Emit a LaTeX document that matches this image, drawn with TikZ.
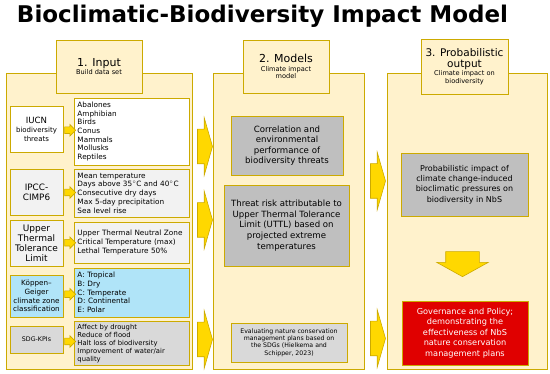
\documentclass[tikz,border=0pt]{standalone}
\usepackage{fontspec}
\setmainfont{DejaVu Sans}
\usetikzlibrary{shapes.arrows,calc}

\definecolor{beige}{HTML}{FFF2CC}
\definecolor{gold}{HTML}{CCAA00}
\definecolor{arrowyellow}{HTML}{FFD800}
\definecolor{paleGrey}{HTML}{F2F2F2}
\definecolor{lightGrey}{HTML}{D9D9D9}
\definecolor{midGrey}{HTML}{BFBFBF}
\definecolor{paleBlue}{HTML}{B0E4F8}
\definecolor{boxRed}{HTML}{E00000}
\newcommand\fsz[2]{\fontsize{#1}{#2}\selectfont}
\newcommand\bigfont{\fsz{11}{12.5}}

\begin{document}
\begin{tikzpicture}[x=1pt,y=-1pt,line width=0.9pt,
  frame/.style={draw=gold,inner sep=0pt,align=center},
  headbox/.style={frame,fill=beige,font=\fsz{6.6}{7.6}},
  listbox/.style={frame,align=left,text width=108pt,inner xsep=3.5pt,font=\fsz{7.3}{8.7}},
  bigarrow/.style={single arrow,draw=gold,fill=arrowyellow,line width=0.6pt,inner sep=0pt,
    inner ysep=17pt,minimum height=15pt,single arrow head extend=11.5pt,single arrow tip angle=148},
  smallarrow/.style={single arrow,draw=gold,fill=arrowyellow,line width=0.6pt,inner sep=0pt,
    inner ysep=3pt,minimum height=11pt,single arrow head extend=2.5pt,single arrow tip angle=90}]
  \useasboundingbox (0,0) rectangle (550,374);
  \node[anchor=base,font=\bfseries\fsz{23}{26}] (title) at (262.5,23) {Bioclimatic-Biodiversity Impact Model};
  % columns
  \node[frame,fill=beige,minimum width=186pt,minimum height=296pt] (col1) at (99,221) {};
  \node[frame,fill=beige,minimum width=151pt,minimum height=296pt] (col2) at (288.5,221) {};
  \node[frame,fill=beige,minimum width=160pt,minimum height=296pt] (col3) at (467,221) {};
  \node[headbox,minimum width=86pt,minimum height=53pt] (head1) at (99,66.5)
    {\bigfont 1. Input\\[1pt]Build data set};
  \node[headbox,minimum width=86pt,minimum height=53pt] (head2) at (286,66.5)
    {\bigfont 2. Models\\[1pt]Climate impact\\model};
  \node[headbox,minimum width=87pt,minimum height=55pt] (head3) at (464.5,66.5)
    {\fsz{10.5}{11.5}3. Probabilistic\\[3.5pt]\fsz{10.5}{11.5}output\\[0.5pt]Climate impact on\\biodiversity};
  % input data sets
  \node[frame,fill=white,minimum width=53pt,minimum height=46pt,font=\fsz{7}{9}] (iucn) at (36.5,129)
    {\fsz{8.6}{9}IUCN\\biodiversity\\threats};
  \node[listbox,fill=white,minimum height=67pt] (iucnlist) at (131.5,131.5)
    {Abalones\\Amphibian\\Birds\\Conus\\Mammals\\Mollusks\\Reptiles};
  \node[frame,fill=paleGrey,minimum width=53pt,minimum height=46pt,font=\fsz{8.8}{10}] (ipcc) at (36.5,192) {IPCC-\\CIMP6};
  \node[listbox,fill=paleGrey,minimum height=48pt] (ipcclist) at (131.5,193)
    {Mean temperature\\Days above 35$^\circ$C and 40$^\circ$C\\Consecutive dry days\\Max 5-day precipitation\\Sea level rise};
  \node[frame,fill=paleGrey,minimum width=53pt,minimum height=46pt,font=\fsz{9}{10}] (uttl) at (36.5,243)
    {Upper\\Thermal\\Tolerance\\Limit};
  \node[listbox,fill=paleGrey,minimum height=41pt] (uttllist) at (131.5,242.5)
    {Upper Thermal Neutral Zone\\Critical Temperature (max)\\Lethal Temperature 50\%};
  \node[frame,fill=paleBlue,minimum width=53pt,minimum height=42pt,font=\fsz{7.2}{8.7}] (koppen) at (36.5,296)
    {Köppen–\\Geiger\\climate zone\\classification};
  \node[listbox,fill=paleBlue,minimum height=49pt] (koppenlist) at (131.5,292.5)
    {A: Tropical\\B: Dry\\C: Temperate\\D: Continental\\E: Polar};
  \node[frame,fill=lightGrey,minimum width=53pt,minimum height=27pt,font=\fsz{6.3}{8}] (sdg) at (36.5,339.5) {SDG-KPIs};
  \node[listbox,fill=lightGrey,minimum height=44pt,font=\fsz{6.8}{8}] (sdglist) at (131.5,343.5)
    {Affect by drought\\Reduce of flood\\Halt loss of biodiversity\\Improvement of water/air\\quality};
  \foreach \a/\b in {iucn/iucnlist,ipcc/ipcclist,uttl/uttllist,koppen/koppenlist,sdg/sdglist}
    \node[smallarrow] (\a arrow) at ($(\a.east)!0.5!(\b.west)$) {};
  % models
  \node[frame,fill=midGrey,minimum width=112pt,minimum height=59pt,font=\fsz{8.6}{10.5}] (corr) at (287,145.5)
    {Correlation and\\environmental\\performance of\\biodiversity threats};
  \node[frame,fill=midGrey,minimum width=125pt,minimum height=81pt,font=\fsz{8.6}{10.6}] (threat) at (286.5,225.5)
    {Threat risk attributable to\\Upper Thermal Tolerance\\Limit (UTTL) based on\\projected extreme\\temperatures};
  \node[frame,fill=lightGrey,minimum width=116pt,minimum height=39pt,font=\fsz{6.2}{7.2}] (eval) at (289,342.5)
    {Evaluating nature conservation\\management plans based on\\the SDGs (Hielkema and\\Schipper, 2023)};
  % output
  \node[frame,fill=midGrey,minimum width=127pt,minimum height=63pt,font=\fsz{8}{10.3}] (prob) at (464.5,184.5)
    {Probabilistic impact of\\climate change-induced\\bioclimatic pressures on\\biodiversity in NbS};
  \node[frame,fill=boxRed,text=white,minimum width=126pt,minimum height=64pt,font=\fsz{8.2}{10.5}] (gov) at (465,333)
    {Governance and Policy;\\demonstrating the\\effectiveness of NbS\\nature conservation\\management plans};
  \node[single arrow,draw=gold,fill=arrowyellow,line width=0.6pt,inner sep=0pt,inner ysep=16.5pt,
    minimum height=25pt,single arrow head extend=9pt,single arrow tip angle=122,rotate=-90] (downarrow) at (462.5,259.5) {};
  % block arrows between the columns
  \node[bigarrow] (arrowA) at (202.5,146.5) {};
  \node[bigarrow] (arrowB) at (202.5,220) {};
  \node[bigarrow] (arrowC) at (202.5,339.5) {};
  \node[bigarrow] (arrowD) at (375.5,181) {};
  \node[bigarrow] (arrowE) at (375.5,338.5) {};
\end{tikzpicture}
\end{document}
